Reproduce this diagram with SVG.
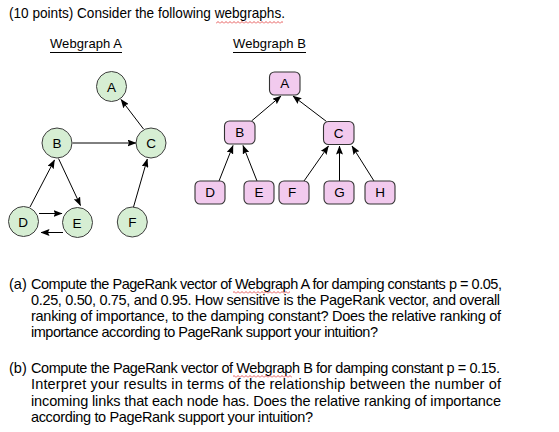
<svg xmlns="http://www.w3.org/2000/svg" width="559" height="432" viewBox="0 0 559 432">
<defs>
<style>
text{font-family:"Liberation Sans",Arial,sans-serif;fill:#000}
.t{font-size:14.5px}
.ti{font-size:15px}
.h{font-size:13px}
.lbl{font-size:13.5px;text-anchor:middle}
.cn{fill:#d6eed3;stroke:#3d3d3d;stroke-width:1}
.bn{fill:#f2caee;stroke:#333;stroke-width:1.1}
.e{stroke:#000;stroke-width:1;fill:none;marker-end:url(#ah)}
.sq{fill:url(#sqp)}
</style>
<marker id="ah" viewBox="0 0 9 7" refX="8.5" refY="3.5" markerWidth="9" markerHeight="7" markerUnits="userSpaceOnUse" orient="auto">
<path d="M0,0 L9,3.5 L0,7 L1.5,3.5 z" fill="#000"/>
</marker>
<pattern id="sqp" width="4" height="3" patternUnits="userSpaceOnUse">
<path d="M0,2.5 L2,0.5 L4,2.5" stroke="#e03030" stroke-width="0.8" fill="none"/>
</pattern>
</defs>
<rect width="559" height="432" fill="#fff"/>

<text class="ti" x="9" y="18" textLength="276" lengthAdjust="spacingAndGlyphs">(10 points) Consider the following webgraphs.</text>
<rect class="sq" x="216" y="21" width="67" height="3"/>

<text class="h" x="50" y="48" textLength="72" lengthAdjust="spacing">Webgraph A</text>
<line x1="50" y1="52.5" x2="122" y2="52.5" stroke="#000" stroke-width="1"/>
<text class="h" x="233" y="48" textLength="73" lengthAdjust="spacing">Webgraph B</text>
<line x1="233" y1="52.5" x2="306" y2="52.5" stroke="#000" stroke-width="1"/>

<g id="connectors">
<line class="e" x1="143.5" y1="129" x2="121" y2="99.5"/>
<line class="e" x1="72.5" y1="143" x2="136" y2="143"/>
<line class="e" x1="30" y1="207" x2="54.5" y2="160"/>
<line class="e" x1="58.5" y1="158.5" x2="80.5" y2="205.5"/>
<line class="e" x1="39" y1="213.5" x2="62" y2="213.5"/>
<line class="e" x1="63" y1="232.5" x2="41" y2="232.5"/>
<line class="e" x1="133.5" y1="207" x2="147.3" y2="159"/>

<line class="e" x1="251.5" y1="121" x2="281" y2="96"/>
<line class="e" x1="326.5" y1="121.5" x2="293" y2="96"/>
<line class="e" x1="219" y1="181" x2="233" y2="145.5"/>
<line class="e" x1="257" y1="181" x2="243" y2="145.5"/>
<line class="e" x1="304" y1="181" x2="328.5" y2="146"/>
<line class="e" x1="339.5" y1="181" x2="339.5" y2="146"/>
<line class="e" x1="374" y1="181" x2="352" y2="146"/>
</g>

<g id="nodeA-A"><circle class="cn" cx="111.5" cy="86.5" r="15"/><text class="lbl" x="111.5" y="91.5">A</text></g>
<g id="nodeA-B"><circle class="cn" cx="57" cy="143" r="15"/><text class="lbl" x="57" y="148">B</text></g>
<g id="nodeA-C"><circle class="cn" cx="151" cy="143" r="15"/><text class="lbl" x="151" y="148">C</text></g>
<g id="nodeA-D"><circle class="cn" cx="23.5" cy="221.5" r="15"/><text class="lbl" x="23" y="226.5">D</text></g>
<g id="nodeA-E"><circle class="cn" cx="77.5" cy="222.5" r="15"/><text class="lbl" x="77" y="227.5">E</text></g>
<g id="nodeA-F"><circle class="cn" cx="132.3" cy="222" r="15"/><text class="lbl" x="132.3" y="227">F</text></g>

<g id="nodeB-A"><rect class="bn" x="269.5" y="72" width="30.5" height="23" rx="5"/><text class="lbl" x="284.7" y="88.3">A</text></g>
<g id="nodeB-B"><rect class="bn" x="224.5" y="121" width="30.5" height="23" rx="5"/><text class="lbl" x="239.7" y="137.3">B</text></g>
<g id="nodeB-C"><rect class="bn" x="323.5" y="121.5" width="30.5" height="23" rx="5"/><text class="lbl" x="338.7" y="137.8">C</text></g>
<g id="nodeB-D"><rect class="bn" x="195" y="181" width="30" height="23" rx="5"/><text class="lbl" x="210" y="197.3">D</text></g>
<g id="nodeB-E"><rect class="bn" x="244" y="181" width="30" height="23" rx="5"/><text class="lbl" x="259" y="197.3">E</text></g>
<g id="nodeB-F"><rect class="bn" x="279" y="181" width="30" height="23" rx="5"/><text class="lbl" x="292" y="197.3">F</text></g>
<g id="nodeB-G"><rect class="bn" x="324" y="181" width="30" height="23" rx="5"/><text class="lbl" x="339.5" y="197.3">G</text></g>
<g id="nodeB-H"><rect class="bn" x="365" y="181" width="30" height="23" rx="5"/><text class="lbl" x="380" y="197.3">H</text></g>

<text class="t" x="9" y="288.5">(a)</text>
<text class="t" x="31" y="288.5" textLength="471" lengthAdjust="spacing">Compute the PageRank vector of Webgraph A for damping constants p = 0.05,</text>
<rect class="sq" x="233" y="291" width="57" height="3"/>
<text class="t" x="31" y="304.5" textLength="469" lengthAdjust="spacing">0.25, 0.50, 0.75, and 0.95.  How sensitive is the PageRank vector, and overall</text>
<text class="t" x="31" y="320.5" textLength="470" lengthAdjust="spacing">ranking of importance, to the damping constant?  Does the relative ranking of</text>
<text class="t" x="31" y="336.5" textLength="347" lengthAdjust="spacing">importance according to PageRank support your intuition?</text>

<text class="t" x="9" y="372.5">(b)</text>
<text class="t" x="31" y="372.5" textLength="469" lengthAdjust="spacing">Compute the PageRank vector of Webgraph B for damping constant p =  0.15.</text>
<rect class="sq" x="233" y="375" width="59" height="3"/>
<text class="t" x="31" y="389" textLength="470" lengthAdjust="spacing">Interpret your results in terms of the relationship between the number of</text>
<text class="t" x="31" y="405.5" textLength="470" lengthAdjust="spacing">incoming links that each node has.  Does the relative ranking of importance</text>
<text class="t" x="31" y="421.5" textLength="282" lengthAdjust="spacing">according to PageRank support your intuition?</text>
</svg>
